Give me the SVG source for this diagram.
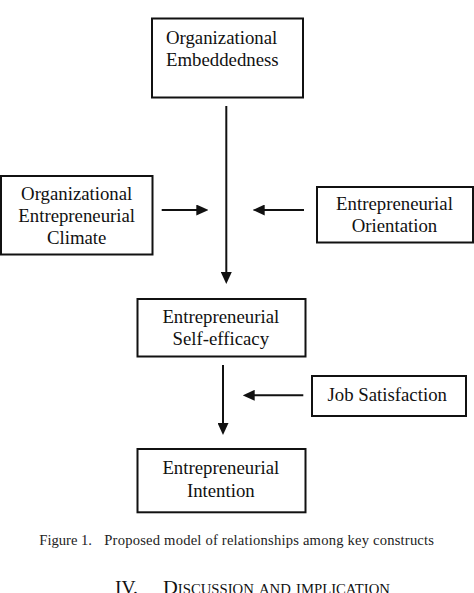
<svg xmlns="http://www.w3.org/2000/svg" width="474" height="593" viewBox="0 0 474 593">
<defs>
<style>
.box{fill:#fff;stroke:#111;stroke-width:2}
.t{font-family:"Liberation Serif","Times New Roman",serif;font-size:18.8px;fill:#111}
.c{text-anchor:middle}
.edge{stroke:#111;stroke-width:2;fill:none;marker-end:url(#ah)}
.cap{font-family:"Liberation Serif","Times New Roman",serif;font-size:14.6px;fill:#222}
.hd{font-family:"Liberation Serif","Times New Roman",serif;font-size:19.5px;fill:#111}
</style>
<marker id="ah" markerUnits="userSpaceOnUse" markerWidth="12" markerHeight="11" refX="4" refY="5.5" orient="auto">
<path d="M0,0 L12,5.5 L0,11 z" fill="#111"/>
</marker>
</defs>
<rect width="474" height="593" fill="#fff"/>
<g id="n-embeddedness">
<rect class="box" x="152" y="18.5" width="151" height="79"/>
<text class="t" x="166" y="44">Organizational</text>
<text class="t" x="166" y="66">Embeddedness</text>
</g>
<g id="n-climate">
<rect class="box" x="1" y="176" width="151.5" height="78.5"/>
<text class="t c" x="76.7" y="200">Organizational</text>
<text class="t c" x="76.7" y="222">Entrepreneurial</text>
<text class="t c" x="76.7" y="244">Climate</text>
</g>
<g id="n-orientation">
<rect class="box" x="317" y="187" width="156" height="55.5"/>
<text class="t c" x="394.5" y="210">Entrepreneurial</text>
<text class="t c" x="394.5" y="232">Orientation</text>
</g>
<g id="n-selfefficacy">
<rect class="box" x="137.5" y="299" width="168" height="57.5"/>
<text class="t c" x="220.8" y="323.3">Entrepreneurial</text>
<text class="t c" x="220.8" y="345.3">Self-efficacy</text>
</g>
<g id="n-jobsat">
<rect class="box" x="312" y="376" width="154" height="40"/>
<text class="t c" x="387.2" y="400.7">Job Satisfaction</text>
</g>
<g id="n-intention">
<rect class="box" x="137.5" y="449" width="168" height="63.3"/>
<text class="t c" x="220.8" y="474">Entrepreneurial</text>
<text class="t c" x="220.8" y="496.5">Intention</text>
</g>
<g id="connectors">
<line class="edge" x1="226.3" y1="106" x2="226.3" y2="276"/>
<line class="edge" x1="161.7" y1="210" x2="200.3" y2="210"/>
<line class="edge" x1="304" y1="210" x2="260.7" y2="210"/>
<line class="edge" x1="223" y1="365" x2="223" y2="427"/>
<line class="edge" x1="303.3" y1="395.3" x2="250.7" y2="395.3"/>
</g>
<g id="caption">
<text class="cap" x="39.3" y="545.3">Figure 1.</text>
<text class="cap" x="104.3" y="545.3" textLength="329.7" lengthAdjust="spacing">Proposed model of relationships among key constructs</text>
</g>
<g id="heading">
<text class="hd" x="115" y="594">IV.</text>
<text class="hd" x="163" y="594" font-variant="small-caps" textLength="227" lengthAdjust="spacingAndGlyphs">Discussion and implication</text>
</g>
</svg>
